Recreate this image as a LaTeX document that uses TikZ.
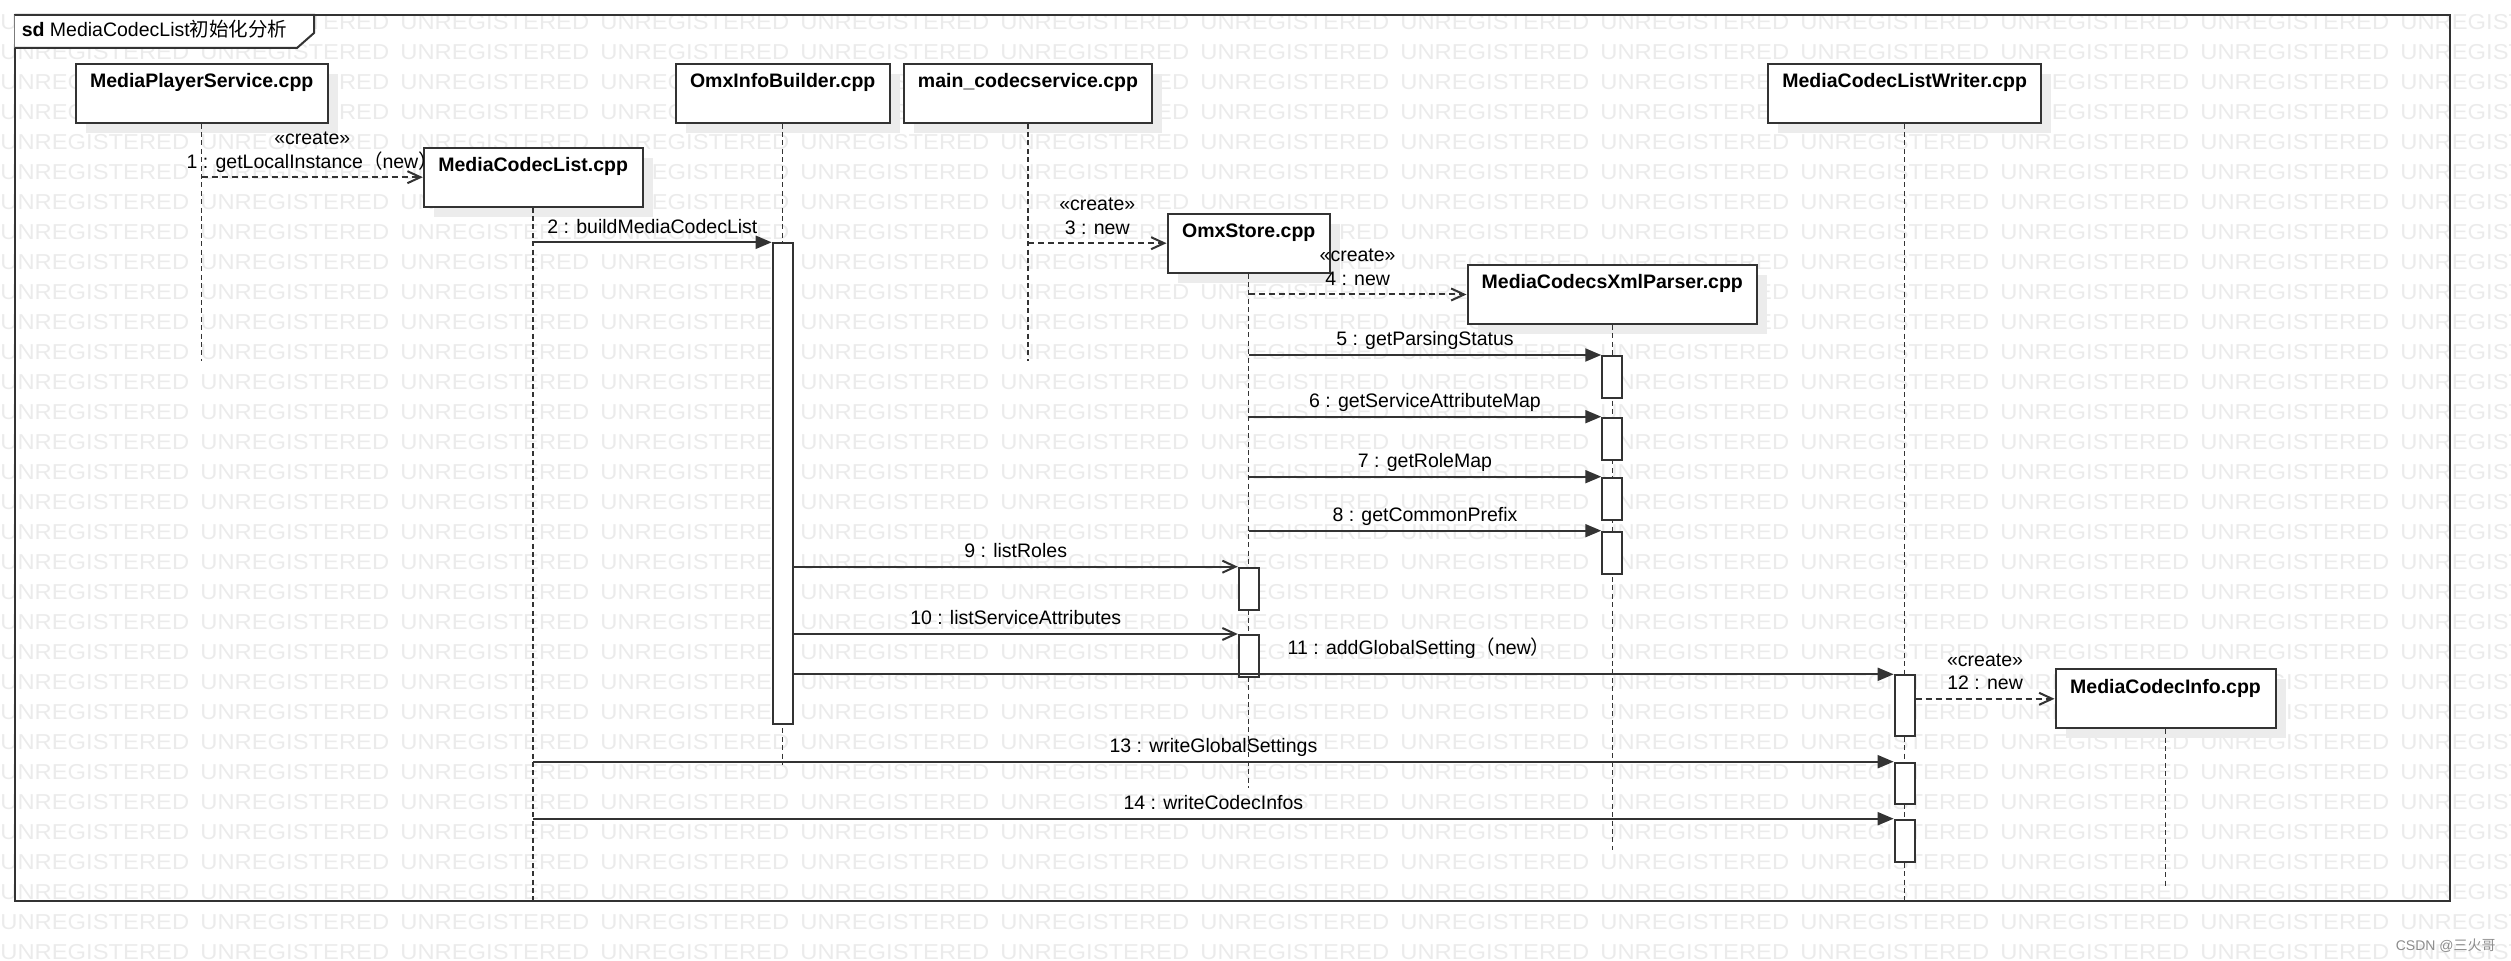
\documentclass[tikz,border=0pt]{standalone}
\usepackage{graphicx}
\usepackage{fontspec}
\setmainfont{Liberation Sans}
\newfontfamily\cjk{Noto Sans CJK SC}
\usetikzlibrary{arrows.meta,calc,shadows}
\definecolor{ln}{HTML}{333333}
\definecolor{wmc}{HTML}{EBEBEB}
\definecolor{shd}{HTML}{ECECEC}
\tikzset{
  txt/.style={font=\fontsize{9.75pt}{11.5pt}\selectfont, inner sep=0pt},
  wmtext/.style={font=\fontsize{10.8pt}{12pt}\selectfont, inner sep=0pt, text=wmc, anchor=base west},
  obj/.style={draw=ln, line width=1pt, fill=white, anchor=north west, minimum height=29.5pt, inner sep=0pt,
    drop shadow={shadow xshift=5pt, shadow yshift=-5pt, fill=shd, opacity=1}},
  objtxt/.style={inner sep=0pt, font=\fontsize{9.75pt}{11.5pt}\selectfont\bfseries, anchor=base},
  life/.style={draw=ln, line width=0.7pt, dash pattern=on 2.5pt off 1.7pt},
  actbar/.style={draw=ln, line width=1pt, fill=white, anchor=north, minimum width=10pt, inner sep=0pt},
  sync/.style={draw=ln, line width=1pt, -{Triangle[length=8pt,width=6.5pt]}},
  reply/.style={draw=ln, line width=1pt, -{Straight Barb[length=6.5pt,width=6pt]}},
  crt/.style={draw=ln, line width=1pt, dash pattern=on 3pt off 2pt, -{Straight Barb[length=6.5pt,width=6pt]}},
  lbl/.style={txt, anchor=base, yshift=4.5pt},
  stereo/.style={txt, anchor=base, yshift=16.25pt},
}
\begin{document}
\begin{tikzpicture}[x=0.5pt, y=-0.5pt]
\useasboundingbox (0,0) rectangle (2511,961);
% watermark
\foreach \r in {-1,...,31}{
  \foreach \c in {0,...,12}{
    \node[wmtext] (wm-\r-\c) at (200*\c, 29.3+30*\r) {\scalebox{1.1}[1]{UNREGISTERED}};
  }
}
% frame
\draw[draw=ln, line width=1pt] (14.7,15) rectangle (2450,901);
\filldraw[fill=white, draw=ln, line width=1pt] (14.7,15) -- (314,15) -- (314,33) -- (297,48) -- (14.7,48);
\node[txt, anchor=base west] (title) at (21.4,36.7) {\textbf{sd} MediaCodecList{\cjk 初始化分析}};

% lifeline boxes
\node[obj, minimum width=126.1pt] (mps) at (74.6,62.7) {};
\node[obj, minimum width=109.35pt] (mcl) at (422.8,146.7) {};
\node[obj, minimum width=107.1pt] (oib) at (674.6,62.7) {};
\node[obj, minimum width=124pt] (mcs) at (903,62.7) {};
\node[obj, minimum width=81.25pt] (omx) at (1166.5,212.7) {};
\node[obj, minimum width=144.75pt] (xml) at (1466.5,264) {};
\node[obj, minimum width=136.65pt] (wri) at (1767,62.7) {};
\node[obj, minimum width=110pt] (mci) at (2054.5,668.3) {};

\node[objtxt] (mps-t) at ($(mps.north)+(0,25)$) {MediaPlayerService.cpp};
\node[objtxt] (mcl-t) at ($(mcl.north)+(0,25)$) {MediaCodecList.cpp};
\node[objtxt] (oib-t) at ($(oib.north)+(0,25)$) {OmxInfoBuilder.cpp};
\node[objtxt] (mcs-t) at ($(mcs.north)+(0,25)$) {main\_codecservice.cpp};
\node[objtxt] (omx-t) at ($(omx.north)+(0,25)$) {OmxStore.cpp};
\node[objtxt] (xml-t) at ($(xml.north)+(0,25)$) {MediaCodecsXmlParser.cpp};
\node[objtxt] (wri-t) at ($(wri.north)+(0,25)$) {MediaCodecListWriter.cpp};
\node[objtxt] (mci-t) at ($(mci.north)+(0,25)$) {MediaCodecInfo.cpp};

% lifelines
\draw[life] (mps.south) -- (mps.south |- 0,361);
\draw[life] (mcl.south) -- (mcl.south |- 0,901);
\draw[life] (oib.south) -- (oib.south |- 0,765);
\draw[life] (mcs.south) -- (mcs.south |- 0,361);
\draw[life] (omx.south) -- (omx.south |- 0,788);
\draw[life] (xml.south) -- (xml.south |- 0,850);
\draw[life] (wri.south) -- (wri.south |- 0,901);
\draw[life] (mci.south) -- (mci.south |- 0,886);

% activation bars
\node[actbar, minimum height=240.2pt] (a2) at (oib.south |- 0,242.3) {};
\node[actbar, minimum height=21pt] (a5) at (xml.south |- 0,355) {};
\node[actbar, minimum height=21pt] (a6) at (xml.south |- 0,416.7) {};
\node[actbar, minimum height=21pt] (a7) at (xml.south |- 0,476.7) {};
\node[actbar, minimum height=21pt] (a8) at (xml.south |- 0,530.7) {};
\node[actbar, minimum height=21.3pt] (a9) at (omx.south |- 0,566.7) {};
\node[actbar, minimum height=21pt] (a10) at (omx.south |- 0,634) {};
\node[actbar, minimum height=30.35pt] (a11) at (wri.south |- 0,674.3) {};
\node[actbar, minimum height=20.8pt] (a13) at (wri.south |- 0,761.7) {};
\node[actbar, minimum height=21.15pt] (a14) at (wri.south |- 0,818.7) {};

% messages
\draw[crt] (mps.south |- mcl.west) -- (mcl.west)
  node[lbl, midway] (l1) {1 : getLocalInstance{\cjk （}new{\cjk ）}}
  node[stereo, midway] (s1) {«create»};
\draw[sync] (mcl.south |- a2.north) -- (a2.north west)
  node[lbl, midway] (l2) {2 : buildMediaCodecList};
\draw[crt] (mcs.south |- omx.west) -- (omx.west)
  node[lbl, midway] (l3) {3 : new}
  node[stereo, midway] (s3) {«create»};
\draw[crt] (omx.south |- xml.west) -- (xml.west)
  node[lbl, midway] (l4) {4 : new}
  node[stereo, midway] (s4) {«create»};
\draw[sync] (omx.south |- a5.north) -- (a5.north west)
  node[lbl, midway] (l5) {5 : getParsingStatus};
\draw[sync] (omx.south |- a6.north) -- (a6.north west)
  node[lbl, midway] (l6) {6 : getServiceAttributeMap};
\draw[sync] (omx.south |- a7.north) -- (a7.north west)
  node[lbl, midway] (l7) {7 : getRoleMap};
\draw[sync] (omx.south |- a8.north) -- (a8.north west)
  node[lbl, midway] (l8) {8 : getCommonPrefix};
\draw[reply] (a2.east |- a9.north) -- (a9.north west)
  node[lbl, midway] (l9) {9 : listRoles};
\draw[reply] (a2.east |- a10.north) -- (a10.north west)
  node[lbl, midway] (l10) {10 : listServiceAttributes};
\draw[sync] (a2.east |- a11.north) -- (a11.north west);
\node[txt, anchor=base west] (l11) at (1287.3,654.3) {11 : addGlobalSetting{\cjk （}new{\cjk ）}};
\draw[crt] (a11.east |- mci.west) -- (mci.west)
  node[lbl, midway] (l12) {12 : new}
  node[stereo, midway] (s12) {«create»};
\draw[sync] (mcl.south |- a13.north) -- (a13.north west)
  node[lbl, midway] (l13) {13 : writeGlobalSettings};
\draw[sync] (mcl.south |- a14.north) -- (a14.north west)
  node[lbl, midway] (l14) {14 : writeCodecInfos};

\node[inner sep=0pt, font=\fontsize{7pt}{8pt}\selectfont, text=black!45, anchor=base east] (csdn) at (2496,950) {CSDN @{\cjk 三火哥}};
\end{tikzpicture}
\end{document}
